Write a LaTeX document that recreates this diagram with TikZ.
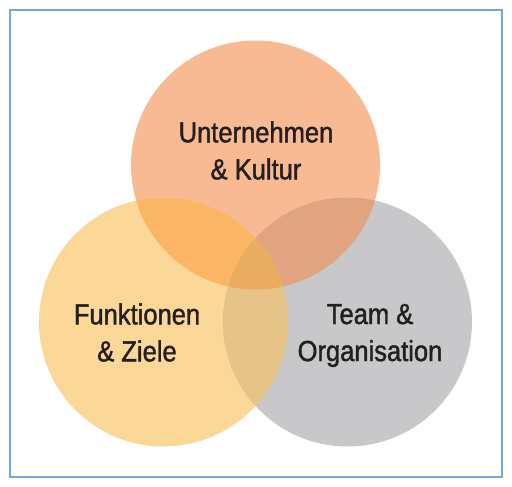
\documentclass[tikz,border=0pt]{standalone}
\usepackage{fontspec}
\setmainfont{Liberation Sans}[FakeStretch=0.88,FakeBold=1.4]
\definecolor{frameBlue}{RGB}{110,168,220}
\definecolor{kulturFill}{RGB}{248,186,146}
\definecolor{zieleFill}{RGB}{252,216,152}
\definecolor{teamFill}{RGB}{200,200,202}
\definecolor{kulturZiele}{RGB}{250,182,100}
\definecolor{kulturTeam}{RGB}{224,165,128}
\definecolor{zieleTeam}{RGB}{230,195,135}
\definecolor{allThree}{RGB}{234,172,96}
\definecolor{textDark}{RGB}{35,31,32}

\begin{document}
\begin{tikzpicture}[x=1pt,y=-1pt,
  venn/.style={circle,inner sep=0pt,minimum size=249pt},
  vennlabel/.style={align=center,text=textDark,inner sep=0pt,font=\fontsize{29}{37}\selectfont}]
\useasboundingbox (0,0) rectangle (512,487);
\draw[frameBlue,line width=1.3pt] (10,10) rectangle (502,477);
% the three circles
\node[venn,fill=kulturFill] (kultur) at (255.5,165) {};
\node[venn,fill=zieleFill] (ziele) at (163.5,322) {};
\node[venn,fill=teamFill] (team) at (347.5,322) {};
% overlaps
\begin{scope}
\clip (kultur.center) circle (124.5pt);
\fill[kulturZiele] (ziele.center) circle (124.5pt);
\fill[kulturTeam] (team.center) circle (124.5pt);
\end{scope}
\begin{scope}
\clip (ziele.center) circle (124.5pt);
\fill[zieleTeam] (team.center) circle (124.5pt);
\clip (team.center) circle (124.5pt);
\fill[allThree] (kultur.center) circle (124.5pt);
\end{scope}
% labels
\node[vennlabel] (kulturText) at (256,150.5) {Unternehmen\\\& Kultur};
\node[vennlabel] (zieleText) at (137,332.5) {Funktionen\\\& Ziele};
\node[vennlabel] (teamText) at (370,335.5) {Team \&\\Organisation};
\end{tikzpicture}
\end{document}
